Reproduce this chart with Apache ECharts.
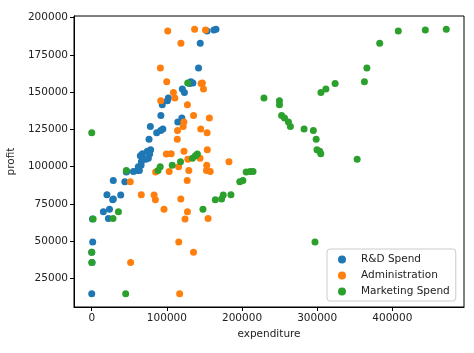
<!DOCTYPE html>
<html>
<head>
<meta charset="utf-8">
<script src="https://cdn.jsdelivr.net/npm/echarts@6/dist/echarts.min.js"></script>
<style>
  html, body { margin: 0; padding: 0; background: #fff; }
  #chart { width: 474px; height: 353px; }
</style>
</head>
<body>
<div id="chart"></div>
<script>
// 50 家初创公司：三项支出与利润
const rdSpend = [165349.2, 162597.7, 153441.51, 144372.41, 142107.34, 131876.9, 134615.46, 130298.13, 120542.52, 123334.88,
  101913.08, 100671.96, 93863.75, 91992.39, 119943.24, 114523.61, 78013.11, 94657.16, 91749.16, 86419.7,
  76253.86, 78389.47, 73994.56, 67532.53, 77044.01, 64664.71, 75328.87, 72107.6, 66051.52, 65605.48,
  61994.48, 61136.38, 63408.86, 55493.95, 46426.07, 46014.02, 28663.76, 44069.95, 20229.59, 38558.51,
  28754.33, 27892.92, 23640.93, 15505.73, 22177.74, 1000.23, 1315.46, 0, 542.05, 0]
const administration = [136897.8, 151377.59, 101145.55, 118671.85, 91391.77, 99814.71, 147198.87, 145530.06, 148718.95, 108679.17,
  110594.11, 91790.61, 127320.38, 135495.07, 156547.42, 122616.84, 121597.55, 145077.58, 114175.79, 153514.11,
  113867.3, 153773.43, 122782.75, 105751.03, 99281.34, 139553.16, 144135.98, 127864.55, 182645.56, 153032.06,
  115641.28, 152701.92, 129219.61, 103057.49, 157693.92, 85047.44, 127056.21, 51283.14, 65947.93, 82982.09,
  118546.05, 84710.77, 96189.63, 127382.3, 154806.14, 124153.04, 115816.21, 135426.92, 51743.15, 116983.8]
const marketingSpend = [471784.1, 443898.53, 407934.54, 383199.62, 366168.42, 362861.36, 127716.82, 323876.68, 311613.29, 304981.62,
  229160.95, 249744.55, 249839.44, 252664.93, 256512.92, 261776.23, 264346.06, 282574.31, 294919.57, 0,
  298664.47, 299737.29, 303319.26, 304768.73, 140574.81, 137962.62, 134050.07, 353183.81, 118148.2, 107138.38,
  91131.24, 88218.23, 46085.25, 214634.81, 210797.67, 205517.64, 201126.82, 197029.42, 185265.1, 174999.3,
  172795.67, 164470.71, 148001.11, 35534.17, 28334.72, 1903.93, 297114.46, 0, 0, 45173.06]
const profit = [192261.83, 191792.06, 191050.39, 182901.99, 166187.94, 156991.12, 156122.51, 155752.6, 152211.77, 149759.96,
  146121.95, 144259.4, 141585.52, 134307.35, 132602.65, 129917.04, 126992.93, 125370.37, 124266.9, 122776.86,
  118474.03, 111313.02, 110352.25, 108733.99, 108552.04, 107404.34, 105733.54, 105008.31, 103282.38, 101004.64,
  99937.59, 97483.56, 97427.84, 96778.92, 96712.8, 96479.51, 90708.19, 89949.14, 81229.06, 81005.76,
  78239.91, 77798.83, 71498.49, 69758.98, 65200.33, 64926.08, 49490.75, 42559.73, 35673.41, 14681.4]

const seriesNames = ['R&D Spend', 'Administration', 'Marketing Spend']
const seriesColors = ['#1f77b4', '#ff7f0e', '#2ca02c']
const xTicks = [0, 100000, 200000, 300000, 400000]
const yTicks = [25000, 50000, 75000, 100000, 125000, 150000, 175000, 200000]

window.onload = function () {
    const chart = echarts.init(document.getElementById('chart'))
    const font = 'DejaVu Sans'

    // 组合成散点数据
    function pairs(xs) {
        return xs.map((x, i) => [x, profit[i]])
    }
    const columns = [rdSpend, administration, marketingSpend]

    const series = columns.map((col, i) => ({
        name: seriesNames[i],
        type: 'scatter',
        data: pairs(col),
        symbolSize: 7,
        itemStyle: { color: seriesColors[i], opacity: 1 },
        z: 2 + i
    }))

    // 刻度标签不带千分位
    const plain = v => String(v)

    chart.setOption({
        backgroundColor: '#fff',
        animation: false,
        grid: {
            left: 74, top: 16, right: 10, bottom: 46,
            outerBoundsMode: 'none', containLabel: false,
            show: true, borderColor: '#000', borderWidth: 1
        },
        xAxis: {
            type: 'value',
            min: -23589,
            max: 495373,
            name: 'expenditure',
            nameLocation: 'middle',
            nameGap: 22,
            nameTextStyle: { fontFamily: font, fontSize: 10.5, color: '#222' },
            axisLine: { show: true, onZero: false, lineStyle: { color: '#000', width: 1 } },
            splitLine: { show: false },
            axisTick: { show: true, length: 4, lineStyle: { color: '#000' }, customValues: xTicks },
            axisLabel: { customValues: xTicks, formatter: plain, fontFamily: font, fontSize: 10.5, color: '#222', margin: 6 }
        },
        yAxis: {
            type: 'value',
            min: 5802,
            max: 201141,
            name: 'profit',
            nameLocation: 'middle',
            nameGap: 54,
            nameTextStyle: { fontFamily: font, fontSize: 10.5, color: '#222' },
            axisLine: { show: true, onZero: false, lineStyle: { color: '#000', width: 1 } },
            splitLine: { show: false },
            axisTick: { show: true, length: 4, lineStyle: { color: '#000' }, customValues: yTicks },
            axisLabel: { customValues: yTicks, formatter: plain, fontFamily: font, fontSize: 10.5, color: '#222', margin: 6 }
        },
        legend: {
            data: seriesNames,
            orient: 'vertical',
            left: 327,
            top: 249,
            padding: [5, 6, 4, 11],
            itemGap: 5,
            itemWidth: 8,
            itemHeight: 8,
            icon: 'circle',
            backgroundColor: 'rgba(255,255,255,0.8)',
            borderColor: '#ccc',
            borderWidth: 1,
            borderRadius: 3,
            textStyle: { fontFamily: font, fontSize: 10.5, color: '#222', padding: [0, 0, 0, 10] }
        },
        series: series
    })
}
</script>
</body>
</html>
